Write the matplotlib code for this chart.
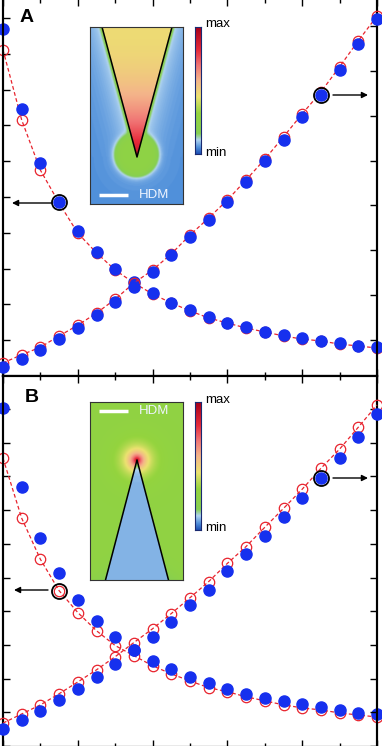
import numpy as np
import matplotlib
matplotlib.use("Agg")
import matplotlib.pyplot as plt
from matplotlib.colors import LinearSegmentedColormap

plt.rcParams['font.family'] = ['Liberation Sans', 'DejaVu Sans']

# ---------------- data ----------------
idx = np.arange(21)

# Panel A, left axis (decreasing)
A_dec_blue = [9.69, 7.46, 5.95, 4.86, 4.05, 3.46, 2.99, 2.63, 2.32, 2.04, 1.84,
              1.65, 1.48, 1.37, 1.23, 1.15, 1.06, 0.98, 0.92, 0.84, 0.81]
A_dec_red = [9.11, 7.15, 5.75, 4.83, 3.99, 3.44, 2.96, 2.60, 2.29, 2.04, 1.82,
             1.62, 1.48, 1.34, 1.23, 1.12, 1.03, 0.98, 0.89, 0.84, 0.78]
# Panel A, right axis (increasing)
A_inc_blue = [-0.60, -0.42, -0.22, 0.02, 0.27, 0.56, 0.85, 1.18, 1.52, 1.89, 2.30,
              2.67, 3.08, 3.52, 3.99, 4.46, 4.97, 5.46, 6.02, 6.60, 7.16]
A_inc_red = [-0.51, -0.33, -0.16, 0.09, 0.33, 0.60, 0.91, 1.27, 1.56, 1.92, 2.34,
             2.72, 3.12, 3.57, 4.03, 4.53, 5.04, 5.53, 6.09, 6.67, 7.22]
# Panel B, left axis (decreasing)
B_dec_blue = [10.03, 7.68, 6.16, 5.12, 4.32, 3.72, 3.24, 2.86, 2.53, 2.29, 2.05,
              1.88, 1.70, 1.55, 1.43, 1.34, 1.25, 1.16, 1.07, 0.98, 0.95]
B_dec_red = [8.54, 6.76, 5.54, 4.61, 3.96, 3.42, 2.98, 2.68, 2.38, 2.14, 1.93,
             1.73, 1.61, 1.46, 1.34, 1.22, 1.13, 1.07, 0.98, 0.92, 0.86]
# Panel B, right axis (increasing)
B_inc_blue = [0.51, 0.77, 1.04, 1.37, 1.70, 2.05, 2.44, 2.86, 3.24, 3.69, 4.17,
              4.64, 5.18, 5.71, 6.22, 6.79, 7.35, 7.95, 8.54, 9.17, 9.85]
B_inc_red = [0.68, 0.95, 1.22, 1.55, 1.90, 2.26, 2.65, 3.07, 3.48, 3.93, 4.40,
             4.88, 5.42, 5.92, 6.49, 7.05, 7.62, 8.24, 8.81, 9.46, 10.12]

panel_labels = ['A', 'B']
cbar_labels = ['max', 'min']
scale_label = 'HDM'

# ---------------- styling ----------------
W, H = 382, 746
BLUE = '#1630ee'
RED = '#e8232d'

fig = plt.figure(figsize=(W / 100, H / 100), dpi=100)


def rect(x0, y0, x1, y1):
    return [x0 / W, (H - y1) / H, (x1 - x0) / W, (y1 - y0) / H]


cmap = LinearSegmentedColormap.from_list('field', [
    (0.0, '#1d4fb4'), (0.05, '#4f8fda'), (0.11, '#b0d3f0'), (0.16, '#86cf52'),
    (0.32, '#94d43e'), (0.45, '#ece270'), (0.58, '#f4b48a'), (0.70, '#f07474'),
    (0.82, '#e62a3a'), (1.0, '#a8001a')])


def setup(ax, tw, ylim_l, ylim_r, yt_l, yt_r):
    for a in (ax, tw):
        a.set_xlim(0, 20)
        a.set_xticks([0, 4, 8, 12, 16, 20])
        a.set_xticks([2, 6, 10, 14, 18], minor=True)
        for s in a.spines.values():
            s.set_linewidth(1.5)
    ax.set_ylim(*ylim_l)
    tw.set_ylim(*ylim_r)
    ax.set_yticks(yt_l)
    tw.set_yticks(yt_r)
    ax.tick_params(which='both', direction='in', top=True, bottom=True, left=True, right=False,
                   labelbottom=False, labelleft=False, width=1.0)
    ax.tick_params(which='major', length=5)
    ax.tick_params(which='minor', length=3)
    tw.tick_params(which='both', direction='in', top=False, bottom=False, left=False, right=True,
                   labelright=False, labelbottom=False, width=1.0)
    tw.tick_params(which='major', length=5)


def series(a, blue, red, z=3):
    a.plot(idx, red, linestyle=(0, (3, 2)), color=RED, lw=0.9, marker='o', ms=7.5,
           mfc='none', mec=RED, mew=0.9, clip_on=False, zorder=z)
    a.plot(idx, blue, linestyle='none', marker='o', ms=8, color=BLUE, mec=BLUE,
           clip_on=False, zorder=z + 1)


# Panel A
axA = fig.add_axes(rect(3, -1, 377, 376))
twA = axA.twinx()
setup(axA, twA, (0, 377 / 35.8), (-36 / 44.86, 341 / 44.86), range(0, 11), range(0, 8))
series(axA, A_dec_blue, A_dec_red)
series(twA, A_inc_blue, A_inc_red)
axA.plot(idx[3], A_dec_blue[3], 'o', ms=10.8, mfc='white', mec='black', mew=1.3, zorder=3.5, clip_on=False)
twA.plot(idx[17], A_inc_blue[17], 'o', ms=10.8, mfc='white', mec='black', mew=1.3, zorder=3.5, clip_on=False)

# Panel B
axB = fig.add_axes(rect(3, 376, 377, 747))
twB = axB.twinx()
setup(axB, twB, (-0.03, 10.98), (-0.03, 10.98), range(0, 11), range(0, 11))
series(axB, B_dec_blue, B_dec_red)
series(twB, B_inc_blue, B_inc_red)
axB.plot(idx[3], B_dec_red[3], 'o', ms=10.8, mfc='none', mec='black', mew=1.3, zorder=5, clip_on=False)
twB.plot(idx[17], B_inc_blue[17], 'o', ms=10.8, mfc='white', mec='black', mew=1.3, zorder=3.5, clip_on=False)

# arrows
for (x0, y0, x1, y1) in [(52, 203, 12, 203), (333, 95, 368, 95), (48, 590, 14, 590), (333, 478, 368, 478)]:
    fig.add_artist(matplotlib.patches.FancyArrowPatch(
        (x0 / W, 1 - y0 / H), (x1 / W, 1 - y1 / H), transform=fig.transFigure,
        arrowstyle='-|>', mutation_scale=9, color='black', lw=1.0, shrinkA=0, shrinkB=0))

# panel labels
fig.text(20 / W, 1 - 17 / H, panel_labels[0], fontsize=14, fontweight='bold', va='center', ha='left')
fig.text(25 / W, 1 - 397 / H, panel_labels[1], fontsize=14, fontweight='bold', va='center', ha='left')


# ---------------- inset fields ----------------
def field_A():
    Hh, Ww = 177, 93
    yy, xx = np.mgrid[0:Hh:0.5, 0:Ww:0.5] + 0.25
    tipx, tipy = 47.0, 130.0
    half = 35 * (tipy - yy) / tipy
    d = np.abs(xx - tipx) - half
    inside = (yy < tipy) & (d < 0)
    r_tip = np.hypot(xx - tipx, yy - tipy)
    dout = np.where(yy < tipy, np.maximum(d * 0.966, 0), r_tip)
    val = 0.05 + 0.07 * np.exp(-dout / 16)
    g = np.exp(-(dout / 2.5) ** 2)
    val = val * (1 - g) + 0.21 * g
    rc = np.hypot(xx - 46.5, yy - 128)
    wc = 1 / (1 + np.exp((rc - 21.5) / 1.8))
    val = val * (1 - wc) + 0.26 * wc
    t = np.clip(yy / tipy, 0, 1)
    vin = 0.47 + 0.46 * t ** 2.2
    return np.where(inside, vin, val)


def field_B():
    Hh, Ww = 178, 93
    yy, xx = np.mgrid[0:Hh:0.5, 0:Ww:0.5] + 0.25
    tipx, tipy = 47.0, 58.0
    half = 31.5 * (yy - tipy) / (Hh - tipy)
    d = np.abs(xx - tipx) - half
    inside = (yy > tipy) & (d < 0)
    r = np.hypot(xx - tipx, yy - tipy)
    dout = np.where(yy > tipy, np.maximum(d * 0.97, 0), r)
    val = 0.28 + 0.68 * np.exp(-r / 8.5)
    val = val - 0.12 * np.exp(-(Hh - yy) / 10) * np.exp(-dout / 12)
    vin = 0.085 + 0.5 * np.exp(-r / 3.5)
    return np.where(inside, vin, val)


def inset(box, fld, ext_h, wedge, bar_y, cbox, ymax, ymin):
    ax = fig.add_axes(rect(*box))
    ax.imshow(fld, cmap=cmap, vmin=0, vmax=1, extent=[0, 93, ext_h, 0], aspect='auto',
              interpolation='bilinear')
    ax.plot(wedge[0], wedge[1], color='black', lw=1.1)
    ax.plot([9, 38], [bar_y, bar_y], color='white', lw=2.5, solid_capstyle='butt')
    ax.text(49, bar_y, scale_label, color='#eef4ff', fontsize=9.5, va='center', ha='left')
    ax.set_xlim(0, 93)
    ax.set_ylim(ext_h, 0)
    ax.set_xticks([])
    ax.set_yticks([])
    for s in ax.spines.values():
        s.set_linewidth(0.8)
        s.set_color('#333333')
    cax = fig.add_axes(rect(*cbox))
    cax.imshow(np.linspace(0, 1, 256)[:, None], cmap=cmap, origin='lower', aspect='auto',
               extent=[0, 1, 0, 1])
    cax.set_xticks([])
    cax.set_yticks([])
    for s in cax.spines.values():
        s.set_linewidth(0.8)
        s.set_color('#1a2a70')
    fig.text(205 / W, 1 - ymax / H, cbar_labels[0], fontsize=9.5, va='center', ha='left')
    fig.text(205 / W, 1 - ymin / H, cbar_labels[1], fontsize=9.5, va='center', ha='left')


inset((90, 27, 183, 204), field_A(), 177, ([12, 47, 82], [0, 130, 0]), 168,
      (195, 27, 201, 154), 24, 153)
inset((90, 402, 183, 580), field_B(), 178, ([15.5, 47, 78.5], [178, 58, 178]), 9,
      (195, 402, 201, 530), 400, 528)

fig.savefig('out.png', dpi=100)
